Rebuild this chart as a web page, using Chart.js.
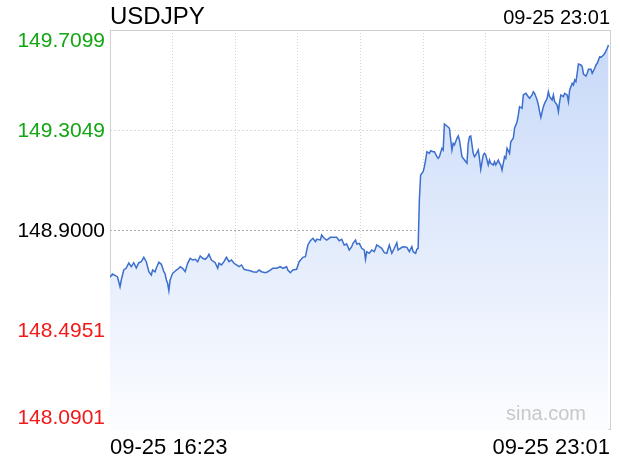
<!DOCTYPE html>
<html><head><meta charset="utf-8">
<script src="https://cdn.jsdelivr.net/npm/chart.js@4/dist/chart.umd.min.js"></script>
<style>html,body{margin:0;padding:0;background:#fff;overflow:hidden}</style>
</head><body>
<canvas id="c" width="620" height="460"></canvas>
<script>
const symbol = 'USDJPY';
const startLabel = '09-25 16:23';
const endLabel = '09-25 23:01';
const watermark = 'sina.com';
const prevClose = 148.9000;
const yTicks = [148.0901, 148.4951, 148.9000, 149.3049, 149.7099];
const yTickLabels = ['148.0901', '148.4951', '148.9000', '149.3049', '149.7099'];
const xTicks = [0, 50, 100, 150, 200, 250, 300, 350, 400];
const xMax = 400;
// minutes after 16:23
const minutes = [0,2,5,6,8,9,11,13,15,17,19,21,23,25,27,29,31,33,34,36,37,39,41,43,44,45,46,47,48,50,
53,55,56,58,60,62,64,66,68,70,72,74,76,78,79,81,84,86,87,89,91,93,95,97,99,101,103,105,107,109,
112,114,117,119,121,124,126,128,130,133,136,138,141,142,144,146,149,151,154,156,158,160,162,164,165,168,169,171,173,176,
178,181,183,185,187,189,191,193,194,196,197,199,201,203,204,205,207,209,211,213,215,217,219,221,223,225,227,229,230,233,
235,237,239,241,242,244,245,246,247,248,250,251,252,253,255,256,258,259,261,262,263,265,266,267,269,271,273,274,275,277,
278,279,281,282,283,285,286,287,288,290,291,292,294,295,296,298,299,300,302,303,304,306,307,308,310,311,312,313,315,316,
317,319,320,322,323,325,326,327,329,330,332,334,335,337,338,339,341,342,343,344,346,347,349,350,351,353,354,355,357,358,
359,360,362,363,365,366,367,369,370,371,372,373,374,376,377,378,380,381,382,384,385,387,388,389,391,392,394,395,397,398];
const prices = [148.7084,148.7218,148.7137,148.7097,148.6704,148.6975,148.7380,148.7461,148.7664,148.7514,
148.7676,148.7461,148.7676,148.7716,148.7894,148.7716,148.7311,148.7178,148.7380,148.7311,
148.7461,148.7692,148.7611,148.7311,148.7218,148.6975,148.6841,148.6542,148.6975,148.7246,
148.7380,148.7449,148.7514,148.7449,148.7311,148.7651,148.7854,148.7785,148.7813,148.7716,
148.7947,148.7854,148.7813,148.7919,148.8016,148.7785,148.7676,148.7449,148.7651,148.7583,
148.7716,148.7894,148.7716,148.7785,148.7651,148.7583,148.7514,148.7583,148.7408,148.7380,
148.7352,148.7311,148.7287,148.7380,148.7311,148.7271,148.7311,148.7380,148.7449,148.7449,
148.7514,148.7449,148.7514,148.7380,148.7271,148.7380,148.7408,148.7716,148.7894,148.7919,
148.8393,148.8567,148.8664,148.8526,148.8623,148.8595,148.8798,148.8664,148.8595,148.8704,
148.8704,148.8704,148.8567,148.8623,148.8393,148.8433,148.8190,148.8324,148.8461,148.8595,
148.8433,148.8461,148.8259,148.8190,148.7813,148.8121,148.8056,148.8190,148.8121,148.8393,
148.8324,148.8259,148.8081,148.8056,148.8393,148.8056,148.8259,148.8486,148.8190,148.8299,
148.8324,148.8299,148.8121,148.8324,148.8121,148.8056,148.8218,148.8259,149.0215,149.1228,
149.1361,149.1564,149.1835,149.2171,149.2106,149.2212,149.2171,149.2171,149.1969,149.1904,
149.1969,149.2309,149.2240,149.3293,149.3212,149.3119,149.2240,149.2511,149.2443,149.2714,
149.2807,149.2645,149.1969,149.1904,149.1835,149.1701,149.2511,149.2779,149.2807,149.2106,
149.1969,149.2038,149.2240,149.1904,149.1458,149.2038,149.2106,149.2038,149.1633,149.1835,
149.1701,149.1633,149.1766,149.1633,149.1835,149.1701,149.1633,149.1430,149.1969,149.1904,
149.2309,149.2106,149.2576,149.2714,149.3119,149.3386,149.3658,149.3994,149.3929,149.4468,
149.4536,149.4399,149.4334,149.4468,149.4601,149.4536,149.4265,149.4063,149.3791,149.3564,
149.3994,149.4131,149.4334,149.4601,149.4399,149.4265,149.4468,149.4196,149.4063,149.3791,
149.4196,149.4468,149.4399,149.4536,149.4468,149.4196,149.4670,149.4941,149.4873,149.5075,
149.5006,149.5346,149.5723,149.5683,149.5614,149.5318,149.5237,149.5346,149.5508,149.5508,
149.5346,149.5549,149.5683,149.5751,149.6019,149.5994,149.6088,149.6156,149.6359,149.6493];

const FONT = '"Liberation Sans", Arial, Helvetica, sans-serif';

const framePlugin = {
  id: 'frame',
  beforeDatasetsDraw(chart) {
    const {ctx, chartArea: a} = chart;
    ctx.save();
    ctx.strokeStyle = '#cfcfcf';
    ctx.lineWidth = 1;
    ctx.strokeRect(a.left + 0.5, a.top + 0.5, a.right - a.left - 1, a.bottom - a.top - 1);
    ctx.restore();
  },
  afterDraw(chart) {
    const {ctx, chartArea: a} = chart;
    const ys = chart.scales.y;
    ctx.save();
    ctx.fillStyle = '#000';
    ctx.font = '24px ' + FONT;
    ctx.textAlign = 'left';
    ctx.textBaseline = 'alphabetic';
    ctx.fillText(symbol, a.left, 24);
    ctx.font = '20px ' + FONT;
    ctx.textAlign = 'right';
    ctx.fillText(endLabel, a.right - 1, 24);
    ctx.font = '21px ' + FONT;
    ctx.textAlign = 'right';
    yTicks.forEach((v, i) => {
      const py = ys.getPixelForValue(v);
      let base;
      if (i === yTicks.length - 1) base = py + 16.5;
      else if (i === 0) base = py - 6.5;
      else base = py + 7;
      ctx.fillStyle = v > prevClose + 1e-9 ? '#13a613' : (v < prevClose - 1e-9 ? '#f01a1a' : '#000');
      ctx.fillText(yTickLabels[i], a.left - 5, base);
    });
    ctx.fillStyle = '#000';
    ctx.font = '22px ' + FONT;
    ctx.textAlign = 'left';
    ctx.fillText(startLabel, a.left, 454);
    ctx.textAlign = 'right';
    ctx.fillText(endLabel, a.right - 1, 454);
    ctx.fillStyle = '#c8c8c8';
    ctx.font = '20px ' + FONT;
    ctx.textAlign = 'left';
    ctx.fillText(watermark, 506, 420);
    ctx.restore();
  }
};

new Chart(document.getElementById('c'), {
  type: 'line',
  data: {
    datasets: [{
      data: minutes.map((m, i) => ({x: m, y: prices[i]})),
      borderColor: '#3c6fcd',
      borderWidth: 1.5,
      pointRadius: 0,
      tension: 0,
      fill: 'start',
      backgroundColor: (c) => {
        const a = c.chart.chartArea;
        if (!a) return 'rgba(220,230,250,0.6)';
        const g = c.chart.ctx.createLinearGradient(0, a.top, 0, a.bottom);
        g.addColorStop(0, 'rgb(198,216,248)');
        g.addColorStop(1, 'rgb(252,253,255)');
        return g;
      }
    }]
  },
  options: {
    responsive: false,
    devicePixelRatio: 1,
    animation: false,
    events: [],
    layout: {padding: {left: 110, right: 9, top: 30, bottom: 30}},
    plugins: {legend: {display: false}, tooltip: {enabled: false}, title: {display: false}},
    scales: {
      x: {
        type: 'linear', min: 0, max: xMax,
        afterBuildTicks: s => { s.ticks = xTicks.map(v => ({value: v})); },
        ticks: {display: false},
        grid: {drawTicks: false, lineWidth: 1,
          color: c => (c.tick && (c.tick.value === 0 || c.tick.value === xMax)) ? 'rgba(0,0,0,0)' : '#d2d2d2'},
        border: {display: false, dash: [1, 2]}
      },
      y: {
        type: 'linear', min: yTicks[0], max: yTicks[yTicks.length - 1],
        afterBuildTicks: s => { s.ticks = yTicks.map(v => ({value: v})); },
        ticks: {display: false},
        grid: {drawTicks: false, lineWidth: 1,
          color: c => {
            if (!c.tick) return '#ddd';
            const v = c.tick.value;
            if (v === yTicks[0] || v === yTicks[yTicks.length - 1]) return 'rgba(0,0,0,0)';
            return Math.abs(v - prevClose) < 1e-6 ? '#a8a8a8' : '#dadada';
          }},
        border: {display: false, dash: [2, 2]}
      }
    }
  },
  plugins: [framePlugin]
});
</script>
</body></html>
